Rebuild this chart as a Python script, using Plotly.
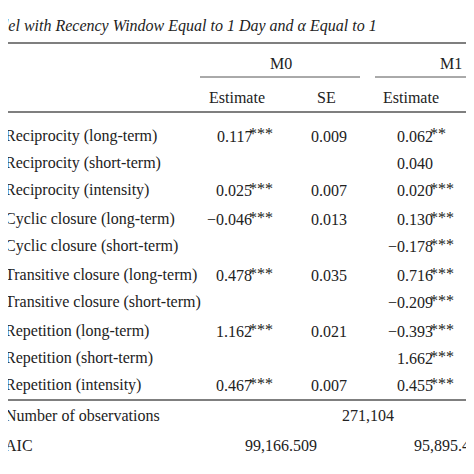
import plotly.graph_objects as go

title = "Model with Recency Window Equal to 1 Day and α Equal to 1"
models = ["M0", "M1"]
col_heads = ["Estimate", "SE", "Estimate"]
row_labels = ["Reciprocity (long-term)", "Reciprocity (short-term)", "Reciprocity (intensity)",
              "Cyclic closure (long-term)", "Cyclic closure (short-term)",
              "Transitive closure (long-term)", "Transitive closure (short-term)",
              "Repetition (long-term)", "Repetition (short-term)", "Repetition (intensity)"]
m0_est = ["0.117", "", "0.025", "−0.046", "", "0.478", "", "1.162", "", "0.467"]
m0_sig = ["***", "", "***", "***", "", "***", "", "***", "", "***"]
m0_se = ["0.009", "", "0.007", "0.013", "", "0.035", "", "0.021", "", "0.007"]
m1_est = ["0.062", "0.040", "0.020", "0.130", "−0.178", "0.716", "−0.209", "−0.393", "1.662", "0.455"]
m1_sig = ["**", "", "***", "***", "***", "***", "***", "***", "***", "***"]
n_obs = "271,104"
aic = ["99,166.509", "95,895.409"]

row_y = [128, 155, 182, 211, 238, 267, 294, 323, 350, 377]
W = H = 474
FONT = "Liberation Serif"
C = "#222222"

def px(x): return x / W
def py(y): return 1 - y / H

ann = []
def t(x, y, s, anchor="center", italic=False, size=16):
    ann.append(dict(x=px(x), y=py(y), xref="paper", yref="paper", text=(f"<i>{s}</i>" if italic else s),
                    showarrow=False, xanchor=anchor, yanchor="middle", borderpad=0,
                    font=dict(family=FONT, size=size, color=C)))

t(370, 18, title, "right", italic=True, size=16)
t(273, 55, models[0]); t(443, 55, models[1])
t(229, 89, col_heads[0]); t(318, 89, col_heads[1]); t(403, 89, col_heads[2])
for i, y in enumerate(row_y):
    t(-4, y, row_labels[i], "left")
    if m0_est[i]:
        t(245, y, m0_est[i], "right"); t(240, y - 2, m0_sig[i], "left")
    if m0_se[i]:
        t(340, y, m0_se[i], "right")
    if m1_est[i]:
        t(426, y, m1_est[i], "right")
        if m1_sig[i]:
            t(421, y - 2, m1_sig[i], "left")
t(-4, 407, "Number of observations", "left")
t(360, 407, n_obs)
t(-4, 437, "AIC", "left")
t(273, 437, aic[0]); t(442, 437, aic[1])

shapes = []
def hl(x0, x1, y, w):
    shapes.append(dict(type="line", xref="paper", yref="paper", x0=px(x0), x1=px(x1), y0=py(y), y1=py(y),
                       line=dict(color="#555", width=w)))
hl(0, 474, 35, 1.5)
hl(192, 352, 69, 1)
hl(367, 474, 69, 1)
hl(0, 474, 104, 1.5)
hl(0, 474, 392, 1.5)

fig = go.Figure()
fig.update_layout(width=W, height=H, margin=dict(l=0, r=0, t=0, b=0),
                  paper_bgcolor="white", plot_bgcolor="white",
                  xaxis=dict(visible=False), yaxis=dict(visible=False),
                  annotations=ann, shapes=shapes, showlegend=False)
fig.write_html("out.html")
